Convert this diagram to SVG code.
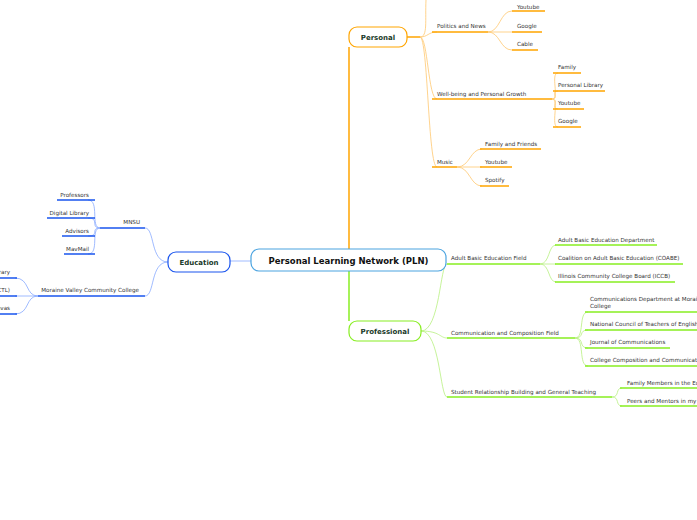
<svg xmlns="http://www.w3.org/2000/svg" width="697" height="520" viewBox="0 0 697 520">
<style>
text{font-family:"DejaVu Sans",Verdana,sans-serif;font-size:5.6px;fill:#333}
.t{font-weight:bold;fill:#1a3a2a}
.o{stroke:#ffa500;fill:none}
.ol{stroke:#ffc870;fill:none;stroke-width:0.8}
.g{stroke:#88ee22;fill:none}
.gl{stroke:#b8f080;fill:none;stroke-width:0.8}
.b{stroke:#1a55ee;fill:none}
.bl{stroke:#88aaff;fill:none;stroke-width:0.8}
.u{stroke-width:1.5}
</style>
<rect width="697" height="520" fill="#fff"/>
<g id="connectors">
<path class="o" stroke-width="1.5" d="M349 249V47"/>
<path class="g" stroke-width="1.5" d="M349 271V321"/>
<path class="bl" stroke-width="1.5" d="M251 261H230"/>
<path class="o u" d="M407 37H420"/>
<path class="ol" d="M420 37C428 37 425 20 426 0M420 37C428 37 428 32 437 32M420 37C428 37 428 99 437 99M420 37C428 37 428 167 437 167"/>
<path class="o u" d="M432 32H488M432 99H552M432 167H457"/>
<path class="ol" d="M488 32C500 32 500 11 512 11M488 32H512M488 32C500 32 500 50 512 50"/>
<path class="o u" d="M512 11H545M512 32H542M512 50H538"/>
<path class="ol" d="M552 99C560 99 550 73 558 73M552 99C560 99 550 91 558 91M552 99C560 99 550 109 558 109M552 99C560 99 550 127 558 127"/>
<path class="o u" d="M553 73H581M553 91H605M553 109H584M553 127H581"/>
<path class="ol" d="M457 167C470 167 470 149 482 149M457 167H482M457 167C470 167 470 186 482 186"/>
<path class="o u" d="M480 149H541M480 167H512M480 186H509"/>
<path class="gl" d="M421 331C440 331 440 264 447 264M421 331C440 331 440 338 447 338M421 331C440 331 440 397 447 397"/>
<path class="g u" d="M447 264H540M447 338H575M447 397H612"/>
<path class="gl" d="M540 264C550 264 548 245 556 245M540 264H556M540 264C550 264 548 282 556 282"/>
<path class="g u" d="M555 245H657M555 264H683M555 282H675"/>
<path class="gl" d="M575 338C585 338 578 312 588 312M575 338C585 338 578 330 588 330M575 338C585 338 578 348 588 348M575 338C585 338 578 366 588 366"/>
<path class="g u" d="M585 312H697M585 330H697M585 348H670M585 366H697"/>
<path class="gl" d="M612 397C620 397 615 388 622 388M612 397C620 397 615 406 622 406"/>
<path class="g u" d="M620 388H697M620 406H697"/>
<path class="bl" d="M168 262C150 262 155 228 145 228M168 262C150 262 155 296 145 296"/>
<path class="b u" d="M100 228H145M38 296H145"/>
<path class="bl" d="M100 228C90 228 100 200 88 200M100 228C90 228 100 218 88 218M100 228C90 228 100 236 88 236M100 228C90 228 100 254 88 254"/>
<path class="b u" d="M57 200H95M47 218H95M62 236H95M64 254H95"/>
<path class="bl" d="M38 296C25 296 30 278 15 278M38 296H15M38 296C25 296 30 314 15 314"/>
<path class="b u" d="M0 278H17M0 296H17M0 314H17"/>
</g>
<g id="central"><rect x="251" y="249" width="195" height="22" rx="8" fill="#fff" stroke="#4aa3e0" stroke-width="1.2"/><text x="348.5" y="264" text-anchor="middle" class="t" style="font-size:8.5px;fill:#111">Personal Learning Network (PLN)</text></g>
<g id="personal"><rect x="349" y="27" width="58" height="20" rx="8" fill="#fff" stroke="#ffa500" stroke-width="1.2"/><text x="378" y="40" text-anchor="middle" class="t" style="font-size:7px">Personal</text></g>
<g id="professional"><rect x="349" y="321" width="72" height="20" rx="8" fill="#fff" stroke="#88ee22" stroke-width="1.2"/><text x="385" y="334" text-anchor="middle" class="t" style="font-size:7px">Professional</text></g>
<g id="education"><rect x="168" y="252" width="62" height="20" rx="8" fill="#fff" stroke="#1a55ee" stroke-width="1.2"/><text x="199" y="265" text-anchor="middle" class="t" style="font-size:7px">Education</text></g>
<g id="labels">
<text x="437" y="28">Politics and News</text>
<text x="517" y="9">Youtube</text><text x="517" y="28">Google</text><text x="517" y="46">Cable</text>
<text x="437" y="96">Well-being and Personal Growth</text>
<text x="558" y="69">Family</text><text x="558" y="87">Personal Library</text><text x="558" y="105">Youtube</text><text x="558" y="123">Google</text>
<text x="437" y="164">Music</text>
<text x="485" y="146">Family and Friends</text><text x="485" y="164">Youtube</text><text x="485" y="182">Spotify</text>
<text x="451" y="260">Adult Basic Education Field</text>
<text x="558" y="242">Adult Basic Education Department</text>
<text x="558" y="260">Coalition on Adult Basic Education (COABE)</text>
<text x="558" y="278">Illinois Community College Board (ICCB)</text>
<text x="451" y="335">Communication and Composition Field</text>
<text x="590" y="301">Communications Department at Moraine Valley Community</text><text x="590" y="308">College</text>
<text x="590" y="326">National Council of Teachers of English</text>
<text x="590" y="344">Journal of Communications</text>
<text x="590" y="362">College Composition and Communication</text>
<text x="451" y="394">Student Relationship Building and General Teaching</text>
<text x="627" y="385">Family Members in the Education Field</text>
<text x="627" y="403">Peers and Mentors in my Field</text>
<text x="140" y="224" text-anchor="end">MNSU</text>
<text x="89" y="197" text-anchor="end">Professors</text>
<text x="89" y="215" text-anchor="end">Digital Library</text>
<text x="89" y="233" text-anchor="end">Advisors</text>
<text x="89" y="251" text-anchor="end">MavMail</text>
<text x="139" y="292" text-anchor="end">Moraine Valley Community College</text>
<text x="10" y="274" text-anchor="end">Library</text>
<text x="10" y="292" text-anchor="end">(CTL)</text>
<text x="10" y="310" text-anchor="end">Canvas</text>
</g>
</svg>
